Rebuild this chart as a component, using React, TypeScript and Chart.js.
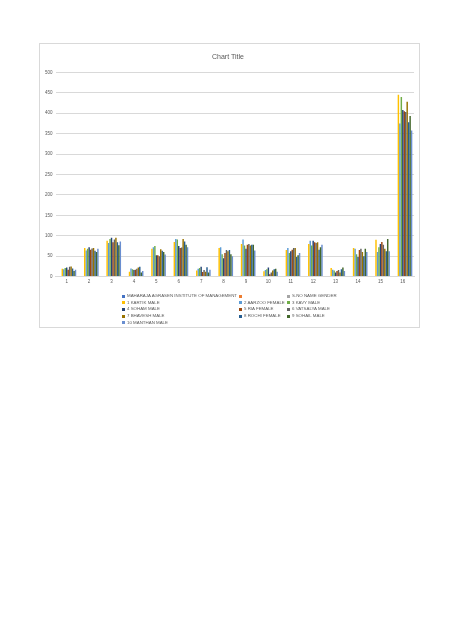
import { Chart, registerables } from 'chart.js';
import { useEffect, useRef } from 'react';

Chart.register(...registerables);

const categories = ['1', '2', '3', '4', '5', '6', '7', '8', '9', '10', '11', '12', '13', '14', '15', '16'];

const seriesNames = [
    'MAHARAJA AGRASEN INSTITUTE OF MANAGEMENT',
    '',
    'S.NO NAME GENDER',
    '1 KARTIK MALE',
    '2 AARZOO FEMALE',
    '3 KAVY MALE',
    '4 SOHAM MALE',
    '5 RIA FEMALE',
    '6 VATSALYA MALE',
    '7 BHAVESH MALE',
    '8 ROCHI FEMALE',
    '9 SOHAIL MALE',
    '10 MANTHAN MALE'
];

const seriesColors = [
    '#4472C4', '#ED7D31', '#A5A5A5', '#FFC000', '#5B9BD5', '#70AD47',
    '#264478', '#9E480E', '#636363', '#997300', '#255E91', '#43682B', '#698ED0'
];

// header rows of the sheet: no numbers
const empty: (number | null)[] = categories.map(() => null);

const kartik = [19, 70, 88, 12, 68, 85, 15, 70, 80, 13, 65, 80, 21, 70, 90, 445];
const aarzoo = [18, 64, 82, 20, 72, 92, 19, 72, 91, 16, 70, 88, 17, 68, 60, 375];
const kavy = [21, 68, 92, 18, 75, 91, 21, 55, 76, 18, 58, 76, 15, 55, 72, 440];
const soham = [22, 72, 95, 16, 52, 75, 24, 45, 68, 22, 62, 88, 10, 48, 80, 408];
const ria = [17, 66, 84, 17, 52, 70, 11, 58, 78, 6, 66, 84, 14, 65, 85, 405];
const vatsalya = [24, 69, 91, 19, 50, 71, 16, 65, 80, 10, 70, 82, 16, 68, 78, 403];
const bhavesh = [25, 70, 95, 22, 67, 92, 12, 62, 76, 15, 70, 84, 10, 60, 68, 428];
const rochi = [20, 63, 84, 24, 63, 86, 23, 65, 78, 18, 48, 66, 18, 50, 62, 378];
const sohail = [14, 60, 77, 10, 60, 78, 10, 55, 78, 19, 52, 72, 22, 68, 92, 393];
const manthan = [17, 68, 86, 14, 54, 72, 17, 50, 64, 12, 58, 78, 14, 60, 62, 358];

const seriesValues = [empty, empty, empty, kartik, aarzoo, kavy, soham, ria, vatsalya, bhavesh, rochi, sohail, manthan];

const FONT = '"Liberation Sans", Calibri, Arial, sans-serif';
const TEXT = '#595959';
const GRID = '#d9d9d9';

function ColumnChart() {
    const canvasRef = useRef<HTMLCanvasElement>(null);
    const chartInstanceRef = useRef<Chart | null>(null);

    useEffect(() => {
        if (!canvasRef.current) return;
        const ctx = canvasRef.current.getContext('2d');
        if (!ctx) return;

        chartInstanceRef.current = new Chart(ctx, {
            type: 'bar',
            data: {
                labels: categories,
                datasets: seriesNames.map((name, i) => ({
                    label: name,
                    data: seriesValues[i],
                    backgroundColor: seriesColors[i],
                    borderWidth: 0
                }))
            },
            options: {
                animation: false,
                responsive: true,
                maintainAspectRatio: false,
                layout: { padding: { left: 2, right: 5, top: 0, bottom: 41 } },
                datasets: { bar: { categoryPercentage: 0.85, barPercentage: 1 } },
                scales: {
                    x: {
                        grid: { display: false, drawTicks: false },
                        border: { display: true, color: GRID, width: 1 },
                        ticks: { color: TEXT, font: { family: FONT, size: 4.5 }, padding: 2, maxRotation: 0 }
                    },
                    y: {
                        min: 0,
                        max: 500,
                        grid: { color: GRID, lineWidth: 1, drawTicks: false },
                        border: { display: false },
                        ticks: { stepSize: 50, color: TEXT, font: { family: FONT, size: 4.5 }, padding: 3 }
                    }
                },
                plugins: {
                    legend: { display: false },
                    tooltip: { enabled: false },
                    title: {
                        display: true,
                        text: 'Chart Title',
                        color: TEXT,
                        font: { family: FONT, size: 7, weight: 'normal' },
                        padding: { top: 9, bottom: 11 }
                    }
                }
            }
        });

        return () => {
            if (chartInstanceRef.current) {
                chartInstanceRef.current.destroy();
                chartInstanceRef.current = null;
            }
        };
    }, []);

    return <canvas style={{ width: '100%', height: '100%' }} ref={canvasRef} />;
}

function Legend() {
    return (
        <div style={{
            position: 'absolute', left: 82, top: 249, width: 220,
            display: 'grid', gridTemplateColumns: '117px 48px auto', rowGap: 0,
            fontFamily: FONT, fontSize: 4.4, lineHeight: '6.65px', color: TEXT, whiteSpace: 'nowrap'
        }}>
            {seriesNames.map((name, i) => (
                <div key={i} style={{ display: 'flex', alignItems: 'center' }}>
                    <span style={{ width: 3, height: 3, background: seriesColors[i], marginRight: 2, flex: 'none' }} />
                    <span>{name}</span>
                </div>
            ))}
        </div>
    );
}

export default function App() {
    return (
        <div style={{ position: 'absolute', left: 0, top: 0, width: 474, height: 632, background: '#fff' }}>
            <div style={{
                position: 'absolute', left: 39, top: 43, width: 381, height: 285,
                border: `1px solid ${GRID}`, boxSizing: 'border-box', background: '#fff'
            }}>
                <div style={{ position: 'absolute', left: 0, top: 0, width: 379, height: 283 }}>
                    <ColumnChart />
                </div>
                <Legend />
            </div>
        </div>
    );
}
